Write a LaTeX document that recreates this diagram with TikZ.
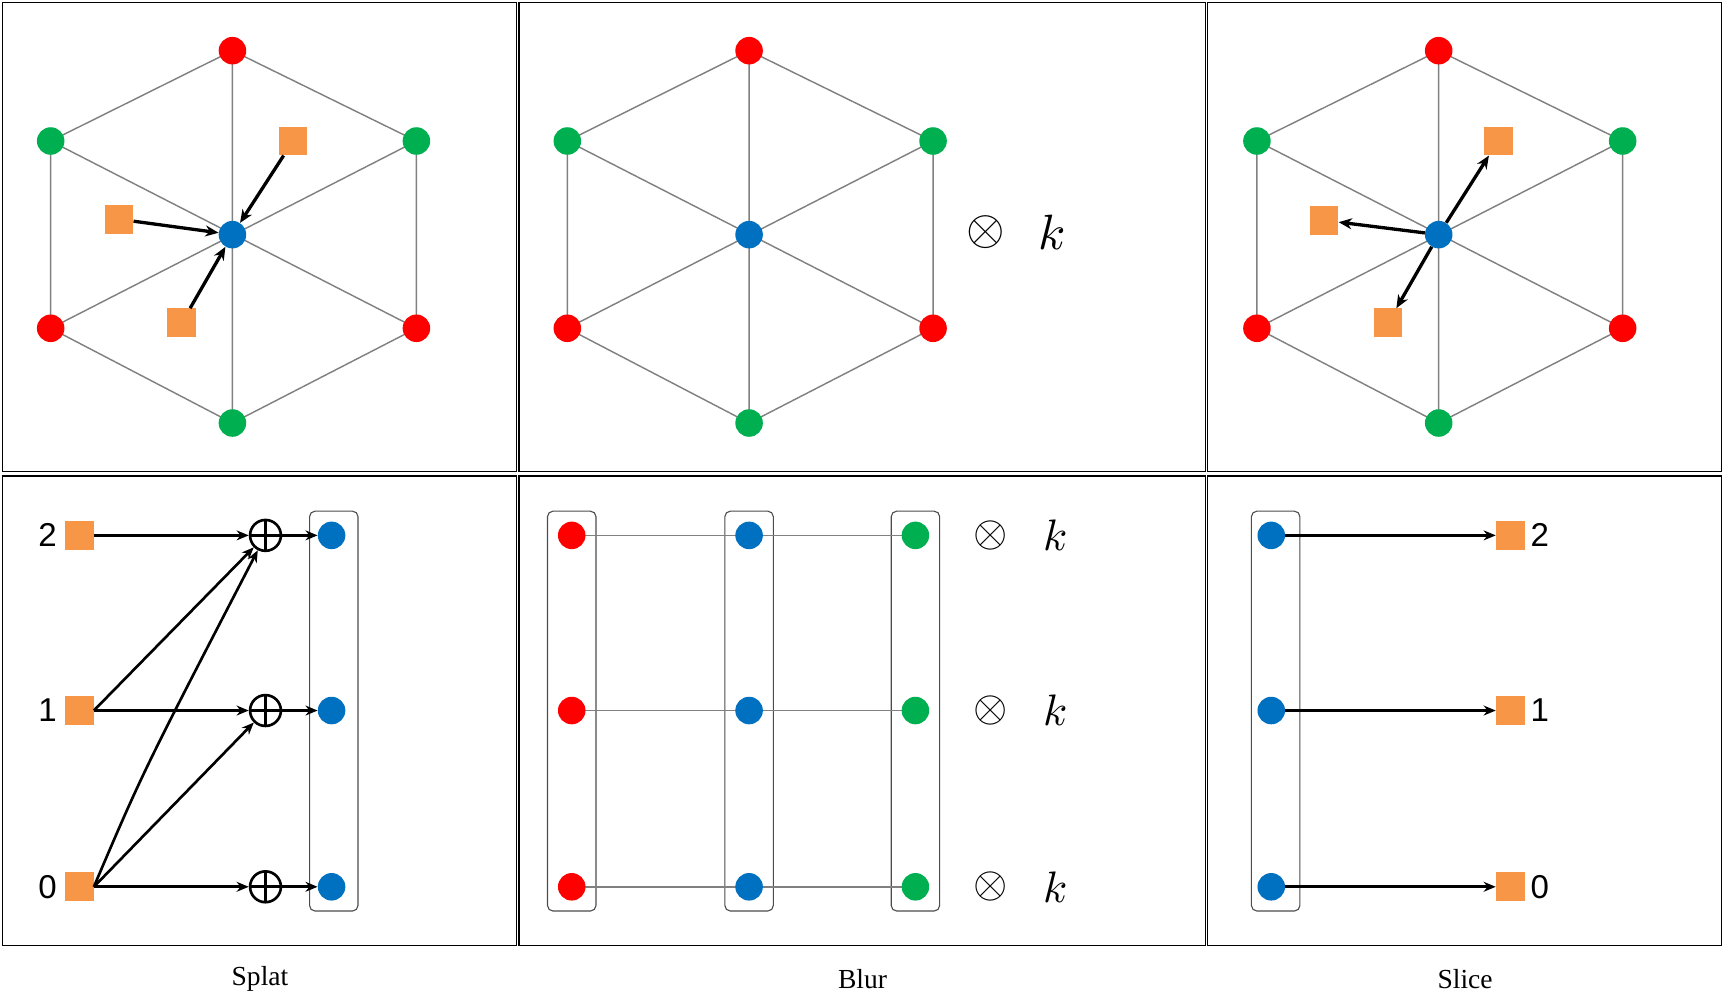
\documentclass[tikz,border=0pt]{standalone}
\usepackage{fontspec}
\setmainfont{Liberation Serif}
\newfontfamily\sansf{Liberation Sans}
\usetikzlibrary{arrows.meta}
\definecolor{cred}{RGB}{255,0,0}
\definecolor{cgreen}{RGB}{0,176,80}
\definecolor{cblue}{RGB}{0,112,192}
\definecolor{corange}{RGB}{247,150,70}
\begin{document}
\begin{tikzpicture}[x=1pt,y=-1pt,
  dot/.style={circle,inner sep=0pt,minimum size=25pt},
  r/.style={dot,fill=cred}, g/.style={dot,fill=cgreen}, b/.style={dot,fill=cblue},
  sq/.style={rectangle,fill=corange,inner sep=0pt,minimum size=26pt},
  edge/.style={draw=gray,line width=1.3pt},
  arr/.style={-{Stealth[length=12pt,width=10pt]},line width=3pt},
  arr2/.style={-{Stealth[length=11pt,width=9pt]},line width=2.4pt},
  panel/.style={draw=black,line width=1.2pt},
  grp/.style={draw=black!70,line width=1pt,rounded corners=5pt},
  num/.style={font=\sansf\fontsize{30}{30}\selectfont},
  captxt/.style={font=\fontsize{25}{25}\selectfont},
  ok/.style={scale=4.5},
  ok2/.style={scale=4},
  plus/.style={circle,draw,line width=2.4pt,minimum size=28pt,inner sep=0pt,
    path picture={\draw[line width=2.4pt] (path picture bounding box.north)--(path picture bounding box.south) (path picture bounding box.west)--(path picture bounding box.east);}}]
\useasboundingbox (0,0) rectangle (1565,905);
% panels
\draw[panel] (2,2) rectangle (469,428);
\draw[panel] (471,2) rectangle (1094,428);
\draw[panel] (1096,2) rectangle (1563,428);
\draw[panel] (2,432) rectangle (469,858);
\draw[panel] (471,432) rectangle (1094,858);
\draw[panel] (1096,432) rectangle (1563,858);
% hexagons
\foreach \p/\cx in {A/211,B/680,C/1306}{
  \coordinate (\p t) at (\cx,46);
  \coordinate (\p b) at (\cx,384);
  \coordinate (\p ul) at (\cx-165,128);
  \coordinate (\p ur) at (\cx+167,128);
  \coordinate (\p ll) at (\cx-165,298);
  \coordinate (\p lr) at (\cx+167,298);
  \coordinate (\p c) at (\cx,213);
  \draw[edge] (\p t)--(\p ur)--(\p lr)--(\p b)--(\p ll)--(\p ul)--cycle;
  \draw[edge] (\p t)--(\p b) (\p ul)--(\p lr) (\p ur)--(\p ll);
  \node[r] (\p tn) at (\p t) {};
  \node[g] (\p bn) at (\p b) {};
  \node[g] (\p uln) at (\p ul) {};
  \node[g] (\p urn) at (\p ur) {};
  \node[r] (\p lln) at (\p ll) {};
  \node[r] (\p lrn) at (\p lr) {};
  \node[b] (\p cn) at (\p c) {};
}
\node[sq] (s1) at (266,128) {};
\node[sq] (s2) at (108,199) {};
\node[sq] (s3) at (165,293) {};
\draw[arr] (s1)--(Acn); \draw[arr] (s2)--(Acn); \draw[arr] (s3)--(Acn);
\node[sq] (t1) at (1360,128) {};
\node[sq] (t2) at (1202,200) {};
\node[sq] (t3) at (1260,293) {};
\draw[arr] (Ccn)--(t1); \draw[arr] (Ccn)--(t2); \draw[arr] (Ccn)--(t3);
\node[ok] (o0) at (895,211) {$\otimes$};
\node[ok] (k0) at (955,211) {$k$};
% bottom splat
\draw[grp] (281,464) rectangle (325,827);
\foreach \i/\y in {2/486,1/645,0/805}{
  \node[sq] (q\i) at (72,\y) {};
  \node[num,anchor=east] (l\i) at (55,\y) {\i};
  \node[plus] (p\i) at (241,\y) {};
  \node[b] (d\i) at (301,\y) {};
  \draw[arr2] (p\i)--(d\i);
}
\draw[arr2] (q2.east)--(p2);
\draw[arr2] (q1.east)--(p2);
\draw[arr2] (q1.east)--(p1);
\draw[arr2] (q0.east) .. controls (130,700) .. (p2);
\draw[arr2] (q0.east)--(p1);
\draw[arr2] (q0.east)--(p0);
% bottom blur
\foreach \x in {519,680,831}{\draw[grp] (\x-22,464) rectangle (\x+22,827);}
\foreach \i/\y in {2/486,1/645,0/805}{
  \draw[edge] (519,\y)--(831,\y);
  \node[r] (br\i) at (519,\y) {};
  \node[b] (bb\i) at (680,\y) {};
  \node[g] (bg\i) at (831,\y) {};
  \node[ok2] (bo\i) at (899,\y) {$\otimes$};
  \node[ok2] (bk\i) at (958,\y) {$k$};
}
% bottom slice
\draw[grp] (1136,464) rectangle (1180,827);
\foreach \i/\y in {2/486,1/645,0/805}{
  \node[b] (sd\i) at (1154,\y) {};
  \node[sq] (sq\i) at (1371,\y) {};
  \node[num,anchor=west] (sl\i) at (1386,\y) {\i};
  \draw[arr2] (sd\i)--(sq\i.west);
}
% captions
\node[captxt] (c1) at (236,889) {Splat};
\node[captxt] (c2) at (783,889) {Blur};
\node[captxt] (c3) at (1330,889) {Slice};
\end{tikzpicture}
\end{document}
